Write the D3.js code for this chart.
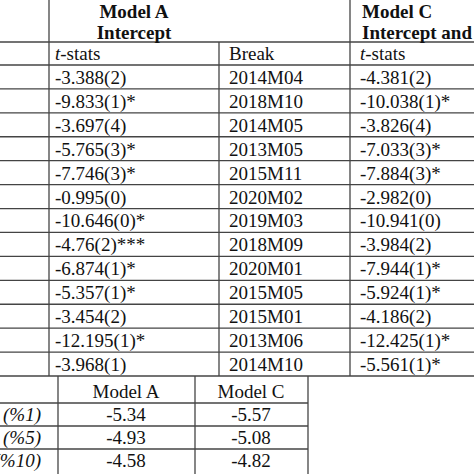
<html>
<head>
<script src="https://d3js.org/d3.v7.min.js"></script>
<style>body{margin:0;background:#fff}</style>
</head>
<body>
<svg id="t" width="474" height="474"></svg>
<script>
var tstatsA = ["-3.388(2)","-9.833(1)*","-3.697(4)","-5.765(3)*","-7.746(3)*","-0.995(0)","-10.646(0)*","-4.76(2)***","-6.874(1)*","-5.357(1)*","-3.454(2)","-12.195(1)*","-3.968(1)"];
var breaksA = ["2014M04","2018M10","2014M05","2013M05","2015M11","2020M02","2019M03","2018M09","2020M01","2015M05","2015M01","2013M06","2014M10"];
var tstatsC = ["-4.381(2)","-10.038(1)*","-3.826(4)","-7.033(3)*","-7.884(3)*","-2.982(0)","-10.941(0)","-3.984(2)","-7.944(1)*","-5.924(1)*","-4.186(2)","-12.425(1)*","-5.561(1)*"];
var critLabels = ["Critical value (%1)","Critical value (%5)","Critical value (%10)"];
var critA = ["-5.34","-4.93","-4.58"];
var critC = ["-5.57","-5.08","-4.82"];

var svg = d3.select("#t");
var font = "'Liberation Serif', 'Times New Roman', serif";
var line = function(x1,y1,x2,y2){
  svg.append("line").attr("x1",x1).attr("y1",y1).attr("x2",x2).attr("y2",y2)
    .attr("stroke","#444").attr("stroke-width",1.3);
};
var txt = function(x,y,s,anchor,weight,style){
  return svg.append("text").attr("x",x).attr("y",y).text(s)
    .attr("font-family",font).attr("font-size",19).attr("fill","#111")
    .attr("text-anchor",anchor||"start").attr("font-weight",weight||"normal")
    .attr("font-style",style||"normal");
};

// top table
var rowY = d3.scaleLinear().domain([0, tstatsA.length]).range([65, 376]);
var cols = [49, 219, 350];
line(cols[0],0,cols[0],376); line(cols[2],0,cols[2],376);
line(cols[1],42,cols[1],376);
line(0,42,474,42);
d3.range(tstatsA.length + 1).forEach(function(i){ line(0,rowY(i),474,rowY(i)); });

txt(134,18,"Model A","middle","bold");
txt(134,39,"Intercept","middle","bold");
txt(362,18,"Model C","start","bold");
txt(362,39,"Intercept and","start","bold");
var th = txt(55,60,"","start");
th.append("tspan").attr("font-style","italic").text("t");
th.append("tspan").text("-stats");
txt(229,60,"Break");
var th2 = txt(360,60,"","start");
th2.append("tspan").attr("font-style","italic").text("t");
th2.append("tspan").text("-stats");

tstatsA.forEach(function(d,i){
  var y = rowY(i+1) - 5;
  txt(55,y,d);
  txt(229,y,breaksA[i]);
  txt(360,y,tstatsC[i]);
});

// bottom table
var bY = d3.scaleLinear().domain([0,3]).range([403,472]);
var bc = [58,195,308];
bc.forEach(function(x){ line(x,376,x,474); });
line(58,403,308,403);
d3.range(1,3).forEach(function(i){ line(0,bY(i),308,bY(i)); });
line(0,403,58,403);
txt(126,398,"Model A","middle");
txt(251,398,"Model C","middle");
critLabels.forEach(function(d,i){
  var y = bY(i) + 18;
  txt(41,y,d,"end",null,"italic");
  txt(126,y,critA[i],"middle");
  txt(251,y,critC[i],"middle");
});
</script>
</body>
</html>
